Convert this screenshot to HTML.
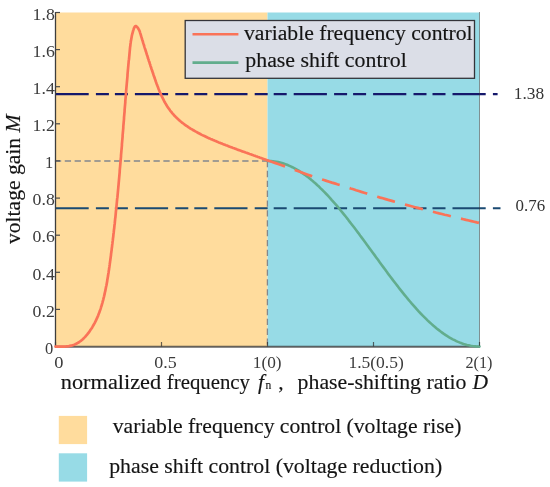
<!DOCTYPE html>
<html><head><meta charset="utf-8"><title>voltage gain</title>
<style>
html,body{margin:0;padding:0;background:#fff;}
svg{display:block;font-family:"Liberation Serif",serif;}
</style></head><body>
<svg width="550" height="487" viewBox="0 0 550 487">
<rect x="0" y="0" width="550" height="487" fill="#ffffff"/>
<rect x="55.5" y="12.5" width="212.0" height="334.0" fill="#ffdc9d"/>
<rect x="267.5" y="12.5" width="212.0" height="334.0" fill="#97dbe6"/>
<!-- gray reference dashes -->
<g stroke="#83878e" stroke-width="1.3" fill="none" stroke-dasharray="6.3 3.56">
<line x1="54.9" y1="161" x2="267.5" y2="161"/>
<line x1="267.4" y1="161" x2="267.4" y2="346.5"/>
</g>
<!-- limits -->
<line x1="55.5" y1="94.2" x2="497.6" y2="94.2" stroke="#15186b" stroke-width="2.2" stroke-dasharray="33.2 7.2 13 6 13 7"/>
<line x1="55.5" y1="208.3" x2="500.5" y2="208.3" stroke="#1a4a72" stroke-width="2" stroke-dasharray="33.2 7.2 13 6 13 7"/>
<!-- axes -->
<line x1="55.5" y1="346.8" x2="480.0" y2="346.8" stroke="#2b2b2b" stroke-opacity="0.72" stroke-width="1.9"/>
<g stroke="#2b2b2b" stroke-opacity="0.72" stroke-width="1.2" fill="none">
<line x1="55.5" y1="346.5" x2="55.5" y2="342.0"/><line x1="161.5" y1="346.5" x2="161.5" y2="342.0"/><line x1="267.5" y1="346.5" x2="267.5" y2="342.0"/><line x1="373.5" y1="346.5" x2="373.5" y2="342.0"/><line x1="479.5" y1="346.5" x2="479.5" y2="342.0"/>
</g>
<g stroke="#3d3d3d" stroke-width="1.3" fill="none">
<line x1="55.5" y1="12.0" x2="55.5" y2="347.7"/>
</g>
<g stroke="#4a4a4a" stroke-width="1.2" fill="none">
<line x1="55.5" y1="346.5" x2="60.0" y2="346.5"/><line x1="55.5" y1="309.4" x2="60.0" y2="309.4"/><line x1="55.5" y1="272.3" x2="60.0" y2="272.3"/><line x1="55.5" y1="235.2" x2="60.0" y2="235.2"/><line x1="55.5" y1="198.1" x2="60.0" y2="198.1"/><line x1="55.5" y1="160.9" x2="60.0" y2="160.9"/><line x1="55.5" y1="123.8" x2="60.0" y2="123.8"/><line x1="55.5" y1="86.7" x2="60.0" y2="86.7"/><line x1="55.5" y1="49.6" x2="60.0" y2="49.6"/><line x1="55.5" y1="12.5" x2="60.0" y2="12.5"/>
</g>
<!-- curves -->
<path d="M267.5,160.9 L269.3,161.0 L271.1,161.1 L272.8,161.2 L274.6,161.5 L276.4,161.8 L278.2,162.1 L280.0,162.5 L281.8,163.0 L283.5,163.6 L285.3,164.2 L287.1,164.8 L288.9,165.6 L290.7,166.4 L292.4,167.2 L294.2,168.1 L296.0,169.1 L297.8,170.1 L299.6,171.2 L301.3,172.4 L303.1,173.6 L304.9,174.8 L306.7,176.2 L308.5,177.5 L310.3,179.0 L312.0,180.4 L313.8,182.0 L315.6,183.5 L317.4,185.2 L319.2,186.8 L320.9,188.6 L322.7,190.3 L324.5,192.1 L326.3,194.0 L328.1,195.9 L329.9,197.8 L331.6,199.8 L333.4,201.8 L335.2,203.8 L337.0,205.9 L338.8,208.0 L340.5,210.2 L342.3,212.4 L344.1,214.6 L345.9,216.8 L347.7,219.1 L349.4,221.4 L351.2,223.7 L353.0,226.0 L354.8,228.3 L356.6,230.7 L358.4,233.1 L360.1,235.5 L361.9,237.9 L363.7,240.3 L365.5,242.7 L367.3,245.2 L369.0,247.6 L370.8,250.0 L372.6,252.5 L374.4,254.9 L376.2,257.4 L378.0,259.8 L379.7,262.3 L381.5,264.7 L383.3,267.1 L385.1,269.6 L386.9,272.0 L388.6,274.4 L390.4,276.7 L392.2,279.1 L394.0,281.5 L395.8,283.8 L397.6,286.1 L399.3,288.4 L401.1,290.6 L402.9,292.9 L404.7,295.1 L406.5,297.3 L408.2,299.4 L410.0,301.5 L411.8,303.6 L413.6,305.6 L415.4,307.7 L417.1,309.6 L418.9,311.6 L420.7,313.5 L422.5,315.3 L424.3,317.1 L426.1,318.9 L427.8,320.6 L429.6,322.3 L431.4,323.9 L433.2,325.5 L435.0,327.0 L436.7,328.5 L438.5,329.9 L440.3,331.3 L442.1,332.6 L443.9,333.9 L445.7,335.1 L447.4,336.2 L449.2,337.3 L451.0,338.3 L452.8,339.3 L454.6,340.2 L456.3,341.1 L458.1,341.9 L459.9,342.6 L461.7,343.3 L463.5,343.9 L465.2,344.4 L467.0,344.9 L468.8,345.3 L470.6,345.7 L472.4,346.0 L474.2,346.2 L475.9,346.4 L477.7,346.5 L479.5,346.5" fill="none" stroke="#62ad8d" stroke-width="2.6" stroke-linejoin="round" stroke-linecap="round"/>
<path d="M267.5,160.5 L270.2,161.3 L272.9,162.2 L275.6,163.1 L278.2,164.0 L280.9,164.9 L283.6,165.9 L286.3,166.8 L289.0,167.8 L291.7,168.8 L294.3,169.8 L297.0,170.8 L299.7,171.7 L302.4,172.7 L305.1,173.7 L307.8,174.7 L310.4,175.6 L313.1,176.5 L315.8,177.4 L318.5,178.3 L321.2,179.2 L323.9,180.0 L326.5,180.9 L329.2,181.7 L331.9,182.6 L334.6,183.4 L337.3,184.3 L340.0,185.1 L342.6,185.9 L345.3,186.8 L348.0,187.6 L350.7,188.5 L353.4,189.3 L356.1,190.2 L358.7,191.0 L361.4,191.9 L364.1,192.7 L366.8,193.5 L369.5,194.4 L372.2,195.2 L374.8,196.0 L377.5,196.8 L380.2,197.6 L382.9,198.3 L385.6,199.1 L388.3,199.9 L390.9,200.6 L393.6,201.4 L396.3,202.1 L399.0,202.9 L401.7,203.6 L404.4,204.4 L407.0,205.1 L409.7,205.8 L412.4,206.5 L415.1,207.2 L417.8,207.9 L420.5,208.6 L423.1,209.3 L425.8,210.0 L428.5,210.7 L431.2,211.4 L433.9,212.0 L436.6,212.7 L439.2,213.4 L441.9,214.0 L444.6,214.7 L447.3,215.3 L450.0,216.0 L452.7,216.7 L455.3,217.3 L458.0,217.9 L460.7,218.6 L463.4,219.2 L466.1,219.9 L468.8,220.5 L471.4,221.1 L474.1,221.7 L476.8,222.4 L479.5,223.0" fill="none" stroke="#fa7358" stroke-width="2.7" stroke-dasharray="18.5 10.38"/>
<path d="M55.5,346.6 L56.6,346.6 L57.7,346.7 L58.8,346.7 L59.9,346.7 L61.0,346.7 L62.1,346.7 L63.3,346.7 L64.4,346.6 L65.5,346.5 L66.6,346.4 L67.7,346.3 L68.9,346.1 L69.9,345.9 L71.0,345.7 L72.1,345.4 L73.1,345.1 L74.2,344.7 L75.2,344.3 L76.2,343.8 L77.1,343.3 L78.1,342.7 L79.0,342.2 L79.9,341.5 L80.8,340.9 L81.6,340.2 L82.5,339.5 L83.3,338.7 L84.1,337.9 L84.9,337.1 L85.6,336.3 L86.4,335.4 L87.1,334.6 L87.8,333.7 L88.5,332.8 L89.2,331.9 L89.8,331.0 L90.4,330.1 L91.1,329.1 L91.7,328.2 L92.3,327.2 L92.8,326.3 L93.4,325.3 L93.9,324.3 L94.5,323.4 L95.0,322.4 L95.5,321.4 L96.0,320.4 L96.4,319.4 L96.9,318.4 L97.3,317.4 L97.8,316.4 L98.2,315.4 L98.6,314.3 L99.0,313.3 L99.4,312.3 L99.7,311.2 L100.1,310.2 L100.5,309.1 L100.8,308.1 L101.1,307.0 L101.5,306.0 L101.8,304.9 L102.1,303.8 L102.4,302.8 L102.7,301.7 L103.0,300.6 L103.3,299.6 L103.5,298.5 L103.8,297.4 L104.1,296.3 L104.3,295.3 L104.6,294.2 L104.8,293.1 L105.0,292.0 L105.3,290.9 L105.5,289.8 L105.7,288.8 L105.9,287.7 L106.1,286.6 L106.4,285.5 L106.6,284.4 L106.8,283.3 L107.0,282.2 L107.2,281.1 L107.3,280.0 L107.5,278.9 L107.7,277.8 L107.9,276.7 L108.1,275.6 L108.2,274.6 L108.4,273.5 L108.6,272.4 L108.7,271.3 L108.9,270.2 L109.1,269.1 L109.2,268.0 L109.4,266.9 L109.5,265.8 L109.7,264.7 L109.8,263.6 L110.0,262.5 L110.1,261.4 L110.3,260.3 L110.4,259.2 L110.6,258.1 L110.7,256.9 L110.9,255.8 L111.0,254.7 L111.1,253.6 L111.3,252.5 L111.4,251.4 L111.6,250.3 L111.7,249.2 L111.8,248.1 L112.0,247.0 L112.1,245.9 L112.2,244.8 L112.4,243.7 L112.5,242.6 L112.6,241.5 L112.8,240.4 L112.9,239.3 L113.0,238.2 L113.2,237.1 L113.3,236.0 L113.4,234.9 L113.5,233.8 L113.7,232.7 L113.8,231.6 L113.9,230.5 L114.0,229.4 L114.2,228.3 L114.3,227.2 L114.4,226.1 L114.5,225.0 L114.7,223.9 L114.8,222.8 L114.9,221.7 L115.0,220.6 L115.1,219.5 L115.2,218.4 L115.4,217.3 L115.5,216.2 L115.6,215.1 L115.7,214.0 L115.8,212.8 L115.9,211.7 L116.0,210.6 L116.2,209.5 L116.3,208.4 L116.4,207.3 L116.5,206.2 L116.6,205.1 L116.7,204.0 L116.8,202.9 L116.9,201.8 L117.0,200.7 L117.1,199.6 L117.2,198.5 L117.4,197.4 L117.5,196.3 L117.6,195.2 L117.7,194.1 L117.8,193.0 L117.9,191.9 L118.0,190.8 L118.1,189.7 L118.2,188.6 L118.3,187.5 L118.4,186.4 L118.5,185.3 L118.6,184.1 L118.7,183.0 L118.8,181.9 L118.9,180.8 L119.0,179.7 L119.1,178.6 L119.2,177.5 L119.3,176.4 L119.4,175.3 L119.5,174.2 L119.6,173.1 L119.7,172.0 L119.7,170.9 L119.8,169.8 L119.9,168.7 L120.0,167.6 L120.1,166.5 L120.2,165.4 L120.3,164.3 L120.4,163.2 L120.5,162.0 L120.6,160.9 L120.7,159.8 L120.8,158.7 L120.9,157.6 L121.0,156.5 L121.0,155.4 L121.1,154.3 L121.2,153.2 L121.3,152.1 L121.4,151.0 L121.5,149.9 L121.6,148.8 L121.7,147.7 L121.8,146.6 L121.9,145.5 L121.9,144.4 L122.0,143.2 L122.1,142.1 L122.2,141.0 L122.3,139.9 L122.4,138.8 L122.5,137.7 L122.6,136.6 L122.6,135.5 L122.7,134.4 L122.8,133.3 L122.9,132.2 L123.0,131.1 L123.1,130.0 L123.2,128.9 L123.3,127.8 L123.3,126.7 L123.4,125.5 L123.5,124.4 L123.6,123.3 L123.7,122.2 L123.8,121.1 L123.9,120.0 L124.0,118.9 L124.0,117.8 L124.1,116.7 L124.2,115.6 L124.3,114.5 L124.4,113.4 L124.5,112.3 L124.6,111.2 L124.6,110.0 L124.7,108.9 L124.8,107.8 L124.9,106.7 L125.0,105.6 L125.1,104.5 L125.2,103.4 L125.3,102.3 L125.3,101.2 L125.4,100.1 L125.5,99.0 L125.6,97.9 L125.7,96.8 L125.8,95.7 L125.9,94.6 L126.0,93.4 L126.1,92.3 L126.1,91.2 L126.2,90.1 L126.3,89.0 L126.4,87.9 L126.5,86.8 L126.6,85.7 L126.7,84.6 L126.8,83.5 L126.9,82.4 L127.0,81.3 L127.1,80.2 L127.2,79.1 L127.3,78.0 L127.4,76.9 L127.5,75.8 L127.5,74.7 L127.6,73.5 L127.7,72.4 L127.8,71.3 L127.9,70.2 L128.0,69.1 L128.1,68.0 L128.2,66.9 L128.3,65.8 L128.4,64.7 L128.5,63.6 L128.6,62.5 L128.7,61.4 L128.8,60.3 L129.0,59.2 L129.1,58.1 L129.2,57.0 L129.3,55.9 L129.4,54.8 L129.5,53.7 L129.6,52.6 L129.7,51.5 L129.8,50.4 L129.9,49.3 L130.0,48.2 L130.1,47.1 L130.3,46.0 L130.4,44.9 L130.5,43.8 L130.7,42.7 L130.8,41.6 L131.0,40.5 L131.2,39.4 L131.4,38.3 L131.6,37.2 L131.8,36.1 L132.0,35.0 L132.3,33.9 L132.6,32.8 L132.9,31.7 L133.2,30.6 L133.6,29.4 L133.9,28.3 L134.4,27.3 L134.8,26.5 L135.4,26.1 L136.1,26.2 L136.9,26.8 L137.7,27.7 L138.4,28.8 L139.0,29.9 L139.5,30.9 L139.9,32.0 L140.2,33.1 L140.6,34.2 L140.9,35.3 L141.2,36.4 L141.6,37.5 L141.9,38.6 L142.2,39.7 L142.6,40.7 L142.9,41.8 L143.2,42.9 L143.5,43.9 L143.9,45.0 L144.2,46.0 L144.5,47.1 L144.8,48.1 L145.2,49.2 L145.5,50.2 L145.8,51.3 L146.2,52.3 L146.5,53.3 L146.8,54.4 L147.2,55.4 L147.5,56.4 L147.8,57.5 L148.1,58.5 L148.5,59.5 L148.8,60.6 L149.1,61.6 L149.5,62.6 L149.8,63.7 L150.2,64.7 L150.5,65.8 L150.8,66.8 L151.2,67.8 L151.5,68.9 L151.9,69.9 L152.2,71.0 L152.6,72.0 L152.9,73.1 L153.3,74.1 L153.6,75.2 L154.0,76.2 L154.4,77.3 L154.7,78.3 L155.1,79.4 L155.5,80.5 L155.8,81.5 L156.2,82.6 L156.6,83.7 L157.0,84.7 L157.4,85.8 L157.8,86.8 L158.2,87.9 L158.6,89.0 L159.0,90.0 L159.5,91.1 L159.9,92.1 L160.4,93.1 L160.8,94.2 L161.3,95.2 L161.7,96.2 L162.2,97.2 L162.7,98.2 L163.2,99.2 L163.7,100.2 L164.2,101.2 L164.8,102.2 L165.3,103.2 L165.9,104.1 L166.4,105.1 L167.0,106.0 L167.6,106.9 L168.2,107.8 L168.9,108.7 L169.5,109.6 L170.1,110.5 L170.8,111.4 L171.5,112.2 L172.2,113.1 L172.9,113.9 L173.6,114.7 L174.3,115.5 L175.1,116.3 L175.9,117.1 L176.6,117.8 L177.4,118.6 L178.2,119.3 L179.0,120.1 L179.9,120.8 L180.7,121.5 L181.6,122.2 L182.4,122.9 L183.3,123.5 L184.2,124.2 L185.0,124.8 L185.9,125.5 L186.9,126.1 L187.8,126.7 L188.7,127.4 L189.6,128.0 L190.6,128.6 L191.5,129.1 L192.5,129.7 L193.4,130.3 L194.4,130.8 L195.4,131.4 L196.4,131.9 L197.3,132.5 L198.3,133.0 L199.3,133.5 L200.3,134.0 L201.3,134.6 L202.3,135.1 L203.3,135.6 L204.4,136.0 L205.4,136.5 L206.4,137.0 L207.4,137.5 L208.4,137.9 L209.5,138.4 L210.5,138.9 L211.5,139.3 L212.6,139.8 L213.6,140.2 L214.6,140.6 L215.6,141.1 L216.7,141.5 L217.7,141.9 L218.7,142.4 L219.8,142.8 L220.8,143.2 L221.8,143.6 L222.8,144.0 L223.9,144.4 L224.9,144.8 L225.9,145.2 L227.0,145.6 L228.0,146.0 L229.0,146.4 L230.0,146.8 L231.1,147.2 L232.1,147.6 L233.1,148.0 L234.2,148.3 L235.2,148.7 L236.2,149.1 L237.2,149.5 L238.3,149.9 L239.3,150.2 L240.3,150.6 L241.4,151.0 L242.4,151.4 L243.4,151.7 L244.5,152.1 L245.5,152.5 L246.6,152.8 L247.6,153.2 L248.6,153.6 L249.7,154.0 L250.7,154.3 L251.8,154.7 L252.8,155.1 L253.9,155.5 L254.9,155.8 L255.9,156.2 L257.0,156.6 L258.0,157.0 L259.1,157.3 L260.1,157.7 L261.2,158.1 L262.3,158.5 L263.3,158.9 L264.4,159.2 L265.4,159.6 L266.5,160.0 L267.6,160.4" fill="none" stroke="#fa7358" stroke-width="2.7" stroke-linejoin="round" stroke-linecap="round"/>
<line x1="479.5" y1="12.5" x2="479.5" y2="346.5" stroke="#333" stroke-width="1" stroke-dasharray="1 1"/>
<g font-size="16.5" fill="#3c3c3c"><text x="45.0" y="353.7">0</text><text x="32.6" y="316.6" textLength="22.2" lengthAdjust="spacingAndGlyphs">0.2</text><text x="32.6" y="279.5" textLength="22.2" lengthAdjust="spacingAndGlyphs">0.4</text><text x="32.6" y="242.4" textLength="22.2" lengthAdjust="spacingAndGlyphs">0.6</text><text x="32.6" y="205.3" textLength="22.2" lengthAdjust="spacingAndGlyphs">0.8</text><text x="45.0" y="168.1">1</text><text x="32.6" y="131.0" textLength="22.2" lengthAdjust="spacingAndGlyphs">1.2</text><text x="32.6" y="93.9" textLength="22.2" lengthAdjust="spacingAndGlyphs">1.4</text><text x="32.6" y="56.8" textLength="22.2" lengthAdjust="spacingAndGlyphs">1.6</text><text x="32.6" y="19.7" textLength="22.2" lengthAdjust="spacingAndGlyphs">1.8</text></g>
<g font-size="16.5" fill="#3c3c3c"><text x="54.2" y="368.2" textLength="9.2" lengthAdjust="spacingAndGlyphs">0</text><text x="154.2" y="368.2" textLength="22.4" lengthAdjust="spacingAndGlyphs">0.5</text><text x="252.8" y="368.2" textLength="28.8" lengthAdjust="spacingAndGlyphs">1(0)</text><text x="348.4" y="368.2" textLength="55.4" lengthAdjust="spacingAndGlyphs">1.5(0.5)</text><text x="465.4" y="368.2" textLength="27.0" lengthAdjust="spacingAndGlyphs">2(1)</text></g>
<text x="513.8" y="99.3" font-size="16.5" fill="#333" textLength="30.4" lengthAdjust="spacingAndGlyphs">1.38</text>
<text x="515.6" y="210.8" font-size="16.5" fill="#333" textLength="29.6" lengthAdjust="spacingAndGlyphs">0.76</text>
<g fill="#141414" stroke="#141414" stroke-width="0.15">
<!-- legend -->
<rect x="185.2" y="20.5" width="289.3" height="57.8" fill="#dbdee7" stroke="#34343a" stroke-width="1.3"/>
<line x1="192.5" y1="34.3" x2="238.4" y2="34.3" stroke="#fa7358" stroke-width="2.6"/>
<line x1="192.5" y1="62.6" x2="238.4" y2="62.6" stroke="#62ad8d" stroke-width="2.6"/>
<text x="244" y="40.1" font-size="20" textLength="228.6" lengthAdjust="spacingAndGlyphs">variable frequency control</text>
<text x="245.3" y="66.7" font-size="20" textLength="161.5" lengthAdjust="spacingAndGlyphs">phase shift control</text>
<!-- axis labels -->
<text transform="translate(19.6,244) rotate(-90)" font-size="21" textLength="129.5" lengthAdjust="spacingAndGlyphs">voltage gain <tspan font-style="italic">M</tspan></text>
<text x="60.8" y="388.9" font-size="21.5" textLength="100.4" lengthAdjust="spacingAndGlyphs">normalized</text>
<text x="166.8" y="388.9" font-size="21.5" textLength="83.2" lengthAdjust="spacingAndGlyphs">frequency</text>
<text x="258" y="388.9" font-size="21.5" font-style="italic">f</text>
<text x="265.4" y="389.4" font-size="11.5">n</text>
<text x="278.2" y="388.9" font-size="21.5">,</text>
<text x="297.6" y="388.9" font-size="21.5" textLength="168.8" lengthAdjust="spacingAndGlyphs">phase-shifting ratio</text>
<text x="472.6" y="388.9" font-size="21.5" font-style="italic">D</text>
<!-- bottom legend -->
<rect x="58.8" y="415.9" width="28.3" height="28.2" fill="#ffdc9d" stroke="none"/>
<rect x="58.8" y="453.3" width="28.3" height="28.3" fill="#97dbe6" stroke="none"/>
<text x="112.8" y="432.6" font-size="21.5" textLength="348.6" lengthAdjust="spacingAndGlyphs">variable frequency control (voltage rise)</text>
<text x="109.2" y="472.5" font-size="21.5" textLength="333" lengthAdjust="spacingAndGlyphs">phase shift control (voltage reduction)</text>
</g>
</svg>
</body></html>
